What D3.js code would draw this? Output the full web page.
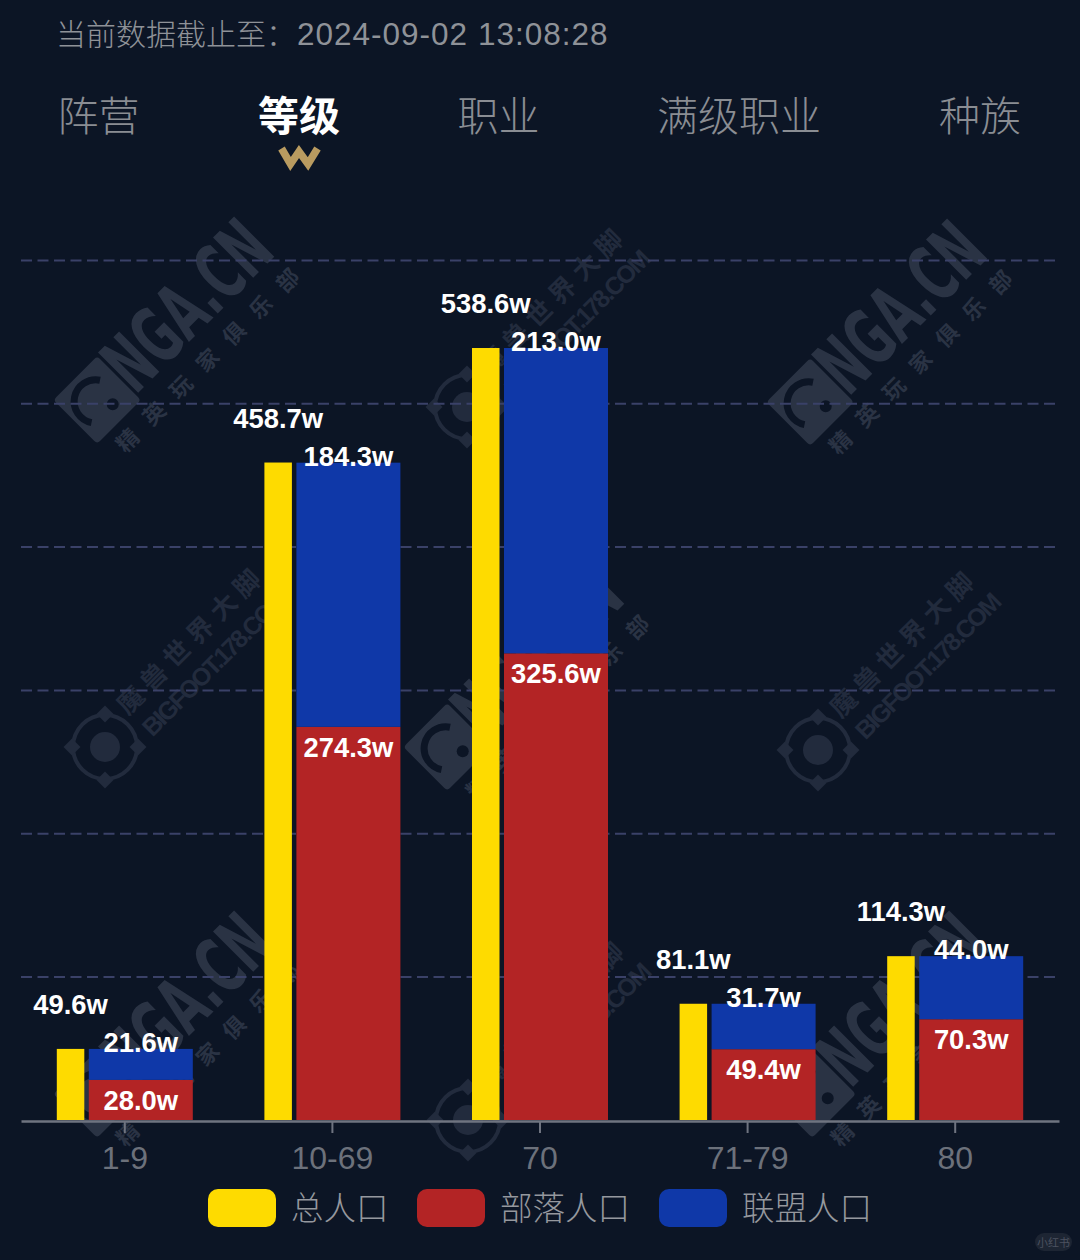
<!DOCTYPE html>
<html><head><meta charset="utf-8">
<script src="https://cdn.jsdelivr.net/npm/d3@7"></script>
<style>
html,body{margin:0;padding:0;background:#0c1525;overflow:hidden}
svg{display:block}
</style></head><body>
<svg id="c" width="1080" height="1260"></svg>
<script>
const categories = ["1-9","10-69","70","71-79","80"];
const totalValues = [49.6,458.7,538.6,81.1,114.3];
const hordeValues = [28.0,274.3,325.6,49.4,70.3];
const allianceValues = [21.6,184.3,213.0,31.7,44.0];
const gridTicks = [100,200,300,400,500,600];
const tabs = ["阵营","等级","职业","满级职业","种族"];
const legendNames = ["总人口","部落人口","联盟人口"];
const seriesColors = ["#fedb00","#b32425","#0f38a8"];
const titleLabel = "当前数据截止至：";
const titleDate = "2024-09-02 13:08:28";

const BG = "#0c1525";
const svg = d3.select("#c");
const CJK = "'Noto Sans CJK SC','Noto Sans',sans-serif";
const LAT = "'Liberation Sans',Arial,sans-serif";

svg.append("rect").attr("width",1080).attr("height",1260).attr("fill",BG);

// watermarks
const wm = svg.append("g").attr("class","watermarks");
const nga = [[100,400],[813,402],[450,747],[100,1094],[815,1094]];
nga.forEach(([x,y])=>{
  const g = wm.append("g").attr("transform",`translate(${x},${y}) rotate(-45)`).attr("fill","#2a3344");
  g.append("text").attr("transform","translate(28,22) scale(0.585,1)").attr("font-family","'DejaVu Sans',sans-serif").attr("font-weight",700)
   .attr("font-size",78).text("NGA.CN");
  g.append("rect").attr("x",-33).attr("y",-33).attr("width",62).attr("height",62).attr("rx",4);
  g.append("path").attr("d","M-22,10 A21,21 0 0 1 14,-14").attr("fill","none").attr("stroke",BG).attr("stroke-width",7);
  g.append("circle").attr("cx",6).attr("cy",12).attr("r",6).attr("fill",BG);
  g.append("text").attr("x",-20).attr("y",56).attr("font-family",CJK).attr("font-weight",700).attr("font-size",22).attr("letter-spacing",15.7).text("精英玩家俱乐部");
});
const big = [[105,747],[818,750],[467,407],[468,1120]];
big.forEach(([x,y])=>{
  const g = wm.append("g").attr("transform",`translate(${x},${y}) rotate(-45)`).attr("fill","#222b3d");
  g.append("text").attr("x",38).attr("y",-6).attr("font-family",CJK).attr("font-weight",700).attr("font-size",26).attr("letter-spacing",7).text("魔兽世界大脚");
  g.append("text").attr("x",40).attr("y",27).attr("font-family",LAT).attr("font-weight",700).attr("font-size",25).attr("textLength",195).text("BIGFOOT.178.COM");
  g.append("circle").attr("r",32).attr("fill","none").attr("stroke","#222b3d").attr("stroke-width",4);
  g.append("circle").attr("r",15);
  [45,135,225,315].forEach(a=>{
    g.append("rect").attr("x",-6).attr("y",-6).attr("width",12).attr("height",12)
     .attr("transform",`rotate(${a}) translate(33,0) rotate(45)`);
  });
});

// header
svg.append("text").attr("x",56).attr("y",45).attr("font-family",CJK).attr("font-weight",300).attr("font-size",30).attr("fill","#8f9298").text(titleLabel);
svg.append("text").attr("x",297).attr("y",45).attr("font-family",LAT).attr("font-size",31.5).attr("letter-spacing",1).attr("fill","#8f9298").text(titleDate);

const tabCenters = [98.5,299,498.5,739,980];
svg.append("g").selectAll("text").data(tabs).join("text")
  .attr("x",(d,i)=>tabCenters[i]).attr("y",131).attr("text-anchor","middle")
  .attr("font-family",CJK).attr("font-size",41)
  .attr("font-weight",d=>d==="等级"?700:300)
  .attr("fill",d=>d==="等级"?"#ffffff":"#8a8d93").text(d=>d);
svg.append("polyline").attr("points","281.5,148.5 290.5,164 299,151.5 308,164 317.5,148.5")
  .attr("fill","none").attr("stroke","#b99b60").attr("stroke-width",7.5).attr("stroke-linejoin","miter");

// scales
const x = d3.scaleBand().domain(categories).range([21,1059]);
const y = d3.scaleLinear().domain([0,600]).range([1120,260]);
const yellowW = 27.5, gap = 4.5, stackW = 104;
const groupW = yellowW+gap+stackW;
const gx = c => x(c)+(x.bandwidth()-groupW)/2;

// grid
svg.append("g").selectAll("line").data(gridTicks).join("line")
  .attr("x1",21).attr("x2",1059).attr("y1",d=>y(d)+0.4).attr("y2",d=>y(d)+0.4)
  .attr("stroke","#3a4168").attr("stroke-width",2).attr("stroke-dasharray","11 5.5");

// bars
const rows = categories.map((c,i)=>({c,t:totalValues[i],h:hordeValues[i],a:allianceValues[i]}));
const bars = svg.append("g");
bars.selectAll(".t").data(rows).join("rect").attr("class","t")
  .attr("x",d=>gx(d.c)).attr("width",yellowW).attr("y",d=>y(d.t)).attr("height",d=>y(0)-y(d.t)).attr("fill",seriesColors[0]);
bars.selectAll(".h").data(rows).join("rect").attr("class","h")
  .attr("x",d=>gx(d.c)+yellowW+gap).attr("width",stackW).attr("y",d=>y(d.h)).attr("height",d=>y(0)-y(d.h)).attr("fill",seriesColors[1]);
bars.selectAll(".a").data(rows).join("rect").attr("class","a")
  .attr("x",d=>gx(d.c)+yellowW+gap).attr("width",stackW).attr("y",d=>y(d.h+d.a)).attr("height",d=>y(d.h)-y(d.h+d.a)).attr("fill",seriesColors[2]);

// axis
const axis = svg.append("g").attr("transform","translate(0,1121)")
  .call(d3.axisBottom(x).tickSize(12).tickSizeOuter(0).tickPadding(9));
axis.select(".domain").attr("stroke","#6f7480").attr("stroke-width",2.5);
axis.selectAll(".tick line").attr("stroke","#6f7480").attr("stroke-width",2);
axis.selectAll(".tick text").attr("font-family",LAT).attr("font-size",32).attr("fill","#6c717b").attr("dy","0.85em");

// value labels
const lab = svg.append("g").attr("font-family",LAT).attr("font-weight",700).attr("font-size",27.4).attr("fill","#fff").attr("text-anchor","middle");
lab.selectAll(".lt").data(rows).join("text")
  .attr("x",d=>gx(d.c)+yellowW/2).attr("y",d=>y(d.t)-35).text(d=>d.t.toFixed(1)+"w");
lab.selectAll(".la").data(rows).join("text")
  .attr("x",d=>gx(d.c)+yellowW+gap+stackW/2).attr("y",d=>y(d.h+d.a)+3).text(d=>d.a.toFixed(1)+"w");
lab.selectAll(".lh").data(rows).join("text")
  .attr("x",d=>gx(d.c)+yellowW+gap+stackW/2).attr("y",d=>y(d.h)+30).text(d=>d.h.toFixed(1)+"w");

// legend
const legX = [208,417,659];
const lg = svg.append("g").selectAll("g").data(legendNames).join("g").attr("transform",(d,i)=>`translate(${legX[i]},1189)`);
lg.append("rect").attr("width",68).attr("height",38).attr("rx",10).attr("fill",(d,i)=>seriesColors[i]);
lg.append("text").attr("x",83).attr("y",31).attr("font-family",CJK).attr("font-weight",300).attr("font-size",32.5).attr("fill","#95989e").text(d=>d);

// platform mark
svg.append("rect").attr("x",1035).attr("y",1233).attr("width",37).attr("height",18).attr("rx",9).attr("fill","#1d2533");
svg.append("text").attr("x",1053.5).attr("y",1247).attr("text-anchor","middle").attr("font-family",CJK).attr("font-size",11).attr("fill","#4c5260").text("小红书");
</script>
</body></html>
